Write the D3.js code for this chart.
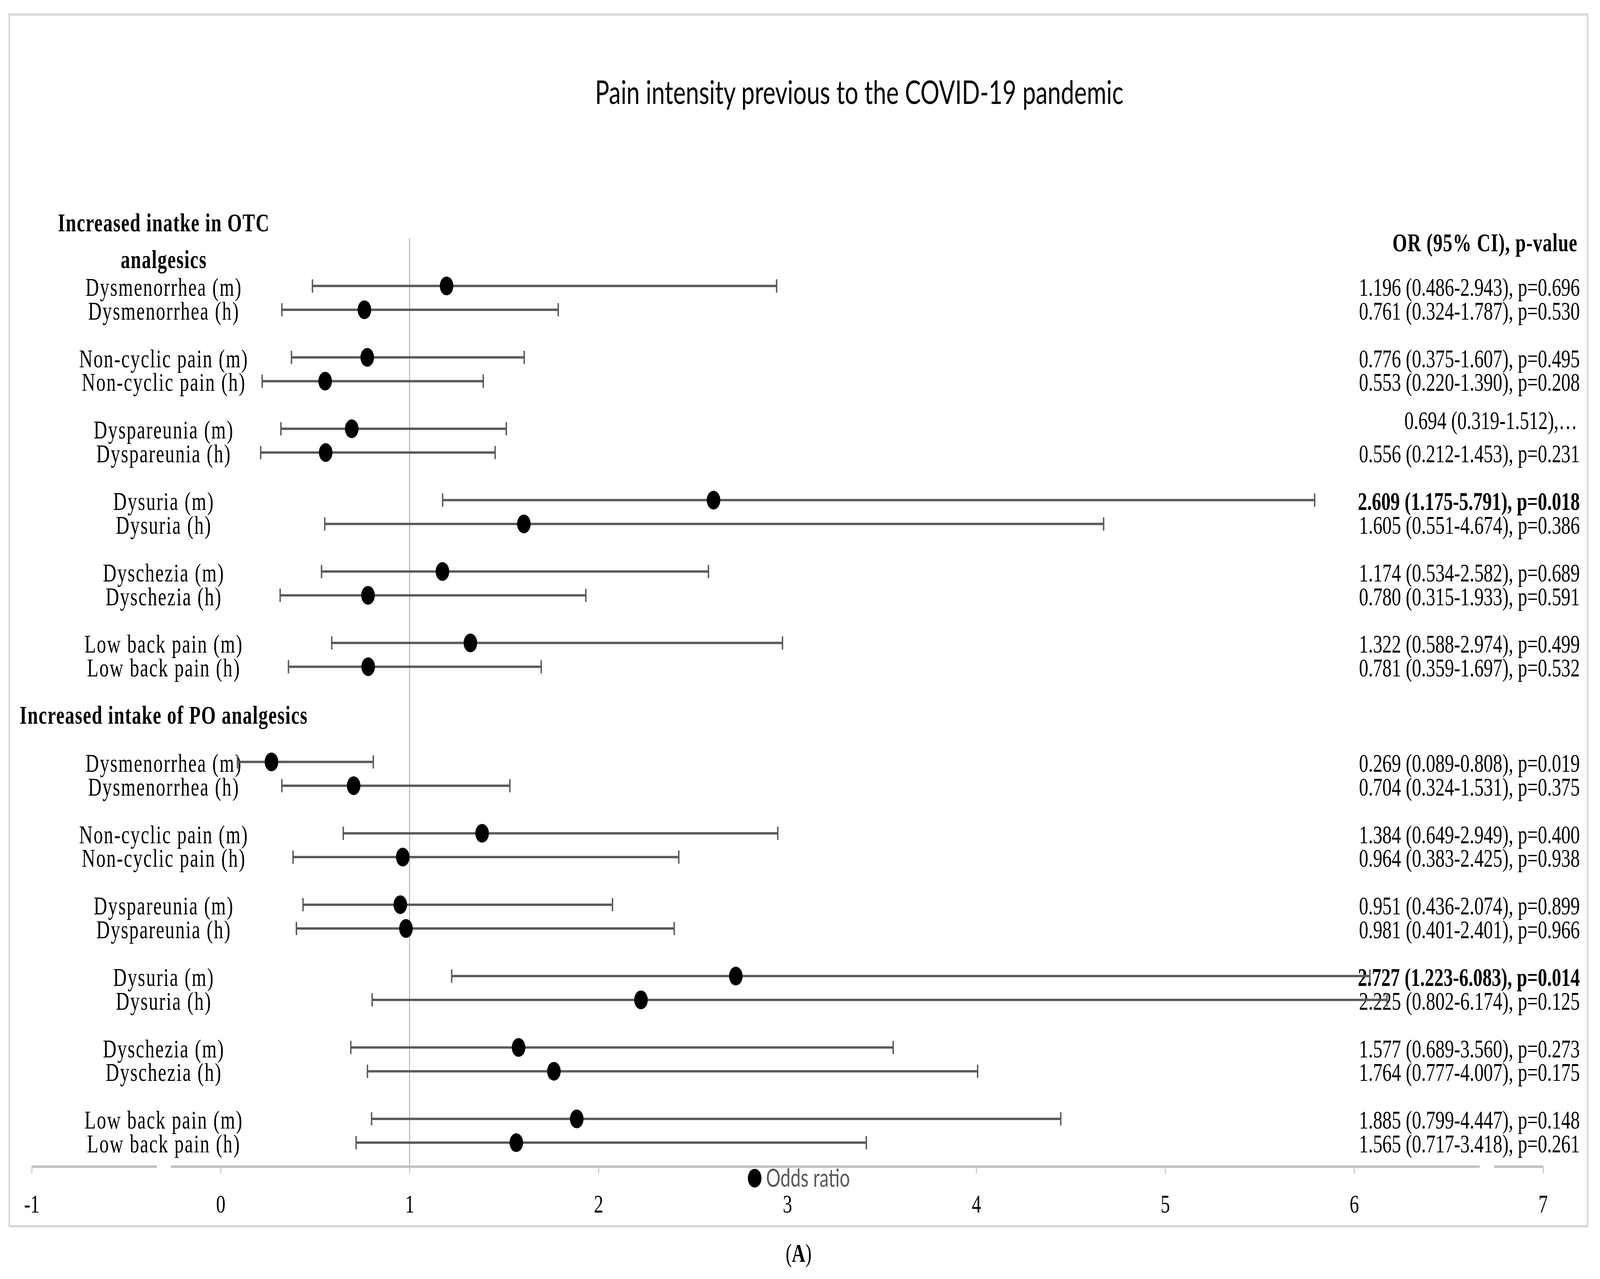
<!DOCTYPE html>
<html>
<head>
<meta charset="utf-8">
<script src="https://cdn.jsdelivr.net/npm/d3@7"></script>
<style>
  body { margin: 0; background: #fff; overflow: hidden; }
  svg { display: block; }
</style>
</head>
<body>
<script>
// groups, conditions and the values
var groups = ["Increased inatke in OTC analgesics", "Increased intake of PO analgesics"];
var conditions = ["Dysmenorrhea", "Non-cyclic pain", "Dyspareunia", "Dysuria", "Dyschezia", "Low back pain"];
var variants = ["(m)", "(h)"];

var oddsRatio = [1.196, 0.761, 0.776, 0.553, 0.694, 0.556, 2.609, 1.605, 1.174, 0.780, 1.322, 0.781,
                 0.269, 0.704, 1.384, 0.964, 0.951, 0.981, 2.727, 2.225, 1.577, 1.764, 1.885, 1.565];
var ciLow = [0.486, 0.324, 0.375, 0.220, 0.319, 0.212, 1.175, 0.551, 0.534, 0.315, 0.588, 0.359,
             0.089, 0.324, 0.649, 0.383, 0.436, 0.401, 1.223, 0.802, 0.689, 0.777, 0.799, 0.717];
var ciHigh = [2.943, 1.787, 1.607, 1.390, 1.512, 1.453, 5.791, 4.674, 2.582, 1.933, 2.974, 1.697,
              0.808, 1.531, 2.949, 2.425, 2.074, 2.401, 6.083, 6.174, 3.560, 4.007, 4.447, 3.418];
// null = label cut off in the original
var pValues = ["0.696", "0.530", "0.495", "0.208", null, "0.231", "0.018", "0.386", "0.689", "0.591", "0.499", "0.532",
               "0.019", "0.375", "0.400", "0.938", "0.899", "0.966", "0.014", "0.125", "0.273", "0.175", "0.148", "0.261"];
var boldRows = [6, 18];

var xTicks = [-1, 0, 1, 2, 3, 4, 5, 6, 7];
var title = "Pain intensity previous to the COVID-19 pandemic";
var legendLabel = "Odds ratio";
var panelLabel = "A";

// afmetingen: tekening in 5646 x 3273, geschaald naar het venster
var width = 5646,
    height = 3273;

var serif = "'Liberation Serif', 'DejaVu Serif', serif";
var sans = "Lato, 'Liberation Sans', sans-serif";

// rijen opbouwen: per groep 6 paren, met een lege regel tussen de paren
var rows = [];
groups.forEach(function (g, gi) {
    conditions.forEach(function (c, ci) {
        variants.forEach(function (v, vi) {
            var i = gi * 12 + ci * 2 + vi;
            rows.push({
                label: c + " " + v,
                slot: gi * 20 + ci * 3 + vi,
                or: oddsRatio[i],
                lo: ciLow[i],
                hi: ciHigh[i],
                p: pValues[i],
                bold: boldRows.indexOf(i) > -1
            });
        });
    });
});

var x = d3.scaleLinear().domain([-1, 7]).range([112, 5445]);
var y = d3.scaleLinear().domain([-2, 37]).range([610, 2985]);

var svg = d3.select("body").append("svg")
    .attr("width", window.innerWidth || width)
    .attr("height", window.innerHeight || height)
    .attr("viewBox", "0 0 " + width + " " + height)
    .attr("preserveAspectRatio", "none")
    .style("background", "#fff");

// kader
svg.append("rect")
    .attr("x", 33).attr("y", 37)
    .attr("width", 5569).attr("height", 3101)
    .attr("fill", "none")
    .attr("stroke", "#d9d9d9")
    .attr("stroke-width", 6);

// titel
svg.append("text")
    .attr("x", 3032).attr("y", 237)
    .attr("dy", "0.35em")
    .attr("text-anchor", "middle")
    .attr("font-family", sans)
    .attr("font-size", 84)
    .attr("fill", "#000")
    .text(title);

// groepskoppen
svg.append("text")
    .attr("x", 578).attr("y", y(-2))
    .attr("text-anchor", "middle")
    .attr("font-family", serif)
    .attr("font-size", 66)
    .attr("font-weight", "bold")
    .attr("letter-spacing", 2.2)
    .selectAll("tspan")
    .data(["Increased inatke in OTC", "analgesics"])
    .enter().append("tspan")
    .attr("x", 578)
    .attr("dy", function (d, i) { return i === 0 ? "-0.27em" : "1.42em"; })
    .text(function (d) { return d; });

svg.append("text")
    .attr("x", 578).attr("y", y(18))
    .attr("dy", "0.36em")
    .attr("text-anchor", "middle")
    .attr("font-family", serif)
    .attr("font-size", 66)
    .attr("font-weight", "bold")
    .attr("letter-spacing", 2.2)
    .text(groups[1]);

svg.append("text")
    .attr("x", 5567).attr("y", y(-2))
    .attr("dy", "0.5em")
    .attr("text-anchor", "end")
    .attr("font-family", serif)
    .attr("font-size", 66)
    .attr("font-weight", "bold")
    .attr("letter-spacing", 1.5)
    .text("OR (95% CI), p-value");

// labels links
svg.append("g")
    .selectAll("text")
    .data(rows)
    .enter().append("text")
    .attr("x", 578)
    .attr("y", function (d) { return y(d.slot); })
    .attr("dy", "0.38em")
    .attr("text-anchor", "middle")
    .attr("font-family", serif)
    .attr("font-size", 66)
    .attr("letter-spacing", 3.3)
    .text(function (d) { return d.label; });

// labels rechts
svg.append("g")
    .selectAll("text")
    .data(rows)
    .enter().append("text")
    .attr("x", function (d) { return d.p === null ? 5566 : 5575; })
    .attr("y", function (d) { return y(d.slot) - (d.p === null ? 24 : 0); })
    .attr("dy", "0.38em")
    .attr("text-anchor", "end")
    .attr("font-family", serif)
    .attr("font-size", 66)
    .attr("font-weight", function (d) { return d.bold ? "bold" : "normal"; })
    .text(function (d) {
        var s = d.or.toFixed(3) + " (" + d.lo.toFixed(3) + "-" + d.hi.toFixed(3) + "),";
        return d.p === null ? s + "\u2026" : s + " p=" + d.p;
    });

// referentielijn bij 1
svg.append("line")
    .attr("x1", x(1)).attr("x2", x(1))
    .attr("y1", y(-2)).attr("y2", y(37))
    .attr("stroke", "#7f7f7f")
    .attr("stroke-width", 2);

// x-as
var axis = svg.append("g")
    .attr("transform", "translate(0," + y(37) + ")")
    .call(d3.axisBottom(x)
        .tickValues(xTicks)
        .tickFormat(function (d) { return String(d); })
        .tickSize(18)
        .tickSizeOuter(0)
        .tickPadding(53));

axis.select(".domain").attr("stroke", "#bfbfbf").attr("stroke-width", 6);
axis.selectAll(".tick line").attr("stroke", "#bfbfbf").attr("stroke-width", 3);
axis.selectAll(".tick text")
    .attr("font-family", serif)
    .attr("font-size", 66)
    .attr("fill", "#000");

// onderbrekingen in de aslijn
[[-0.338, -0.263], [6.665, 6.742]].forEach(function (gap) {
    svg.append("rect")
        .attr("x", x(gap[0])).attr("y", y(37) - 6)
        .attr("width", x(gap[1]) - x(gap[0])).attr("height", 12)
        .attr("fill", "#fff");
});

// foutbalken
var bars = svg.append("g")
    .attr("stroke", "#595959")
    .attr("stroke-width", 6);

bars.selectAll("line.ci")
    .data(rows)
    .enter().append("line")
    .attr("class", "ci")
    .attr("x1", function (d) { return x(d.lo); })
    .attr("x2", function (d) { return x(d.hi); })
    .attr("y1", function (d) { return y(d.slot); })
    .attr("y2", function (d) { return y(d.slot); });

["lo", "hi"].forEach(function (k) {
    bars.selectAll("line.cap-" + k)
        .data(rows)
        .enter().append("line")
        .attr("class", "cap-" + k)
        .attr("stroke-width", 5)
        .attr("x1", function (d) { return x(d[k]); })
        .attr("x2", function (d) { return x(d[k]); })
        .attr("y1", function (d) { return y(d.slot) - 17; })
        .attr("y2", function (d) { return y(d.slot) + 17; });
});

// punten
svg.append("g")
    .selectAll("circle")
    .data(rows)
    .enter().append("circle")
    .attr("cx", function (d) { return x(d.or); })
    .attr("cy", function (d) { return y(d.slot); })
    .attr("r", 24)
    .attr("fill", "#000");

// legenda
var legenda = svg.append("g").attr("transform", "translate(2663,3015)");
legenda.append("circle").attr("r", 24).attr("fill", "#000");
legenda.append("text")
    .attr("x", 40)
    .attr("dy", "0.35em")
    .attr("font-family", sans)
    .attr("font-size", 64)
    .attr("fill", "#595959")
    .text(legendLabel);

// paneel label (A)
var pl = svg.append("text")
    .attr("x", 2818).attr("y", 3206)
    .attr("dy", "0.35em")
    .attr("text-anchor", "middle")
    .attr("font-family", serif)
    .attr("font-size", 66);
pl.append("tspan").text("(");
pl.append("tspan").attr("font-weight", "bold").text(panelLabel);
pl.append("tspan").text(")");
</script>
</body>
</html>
